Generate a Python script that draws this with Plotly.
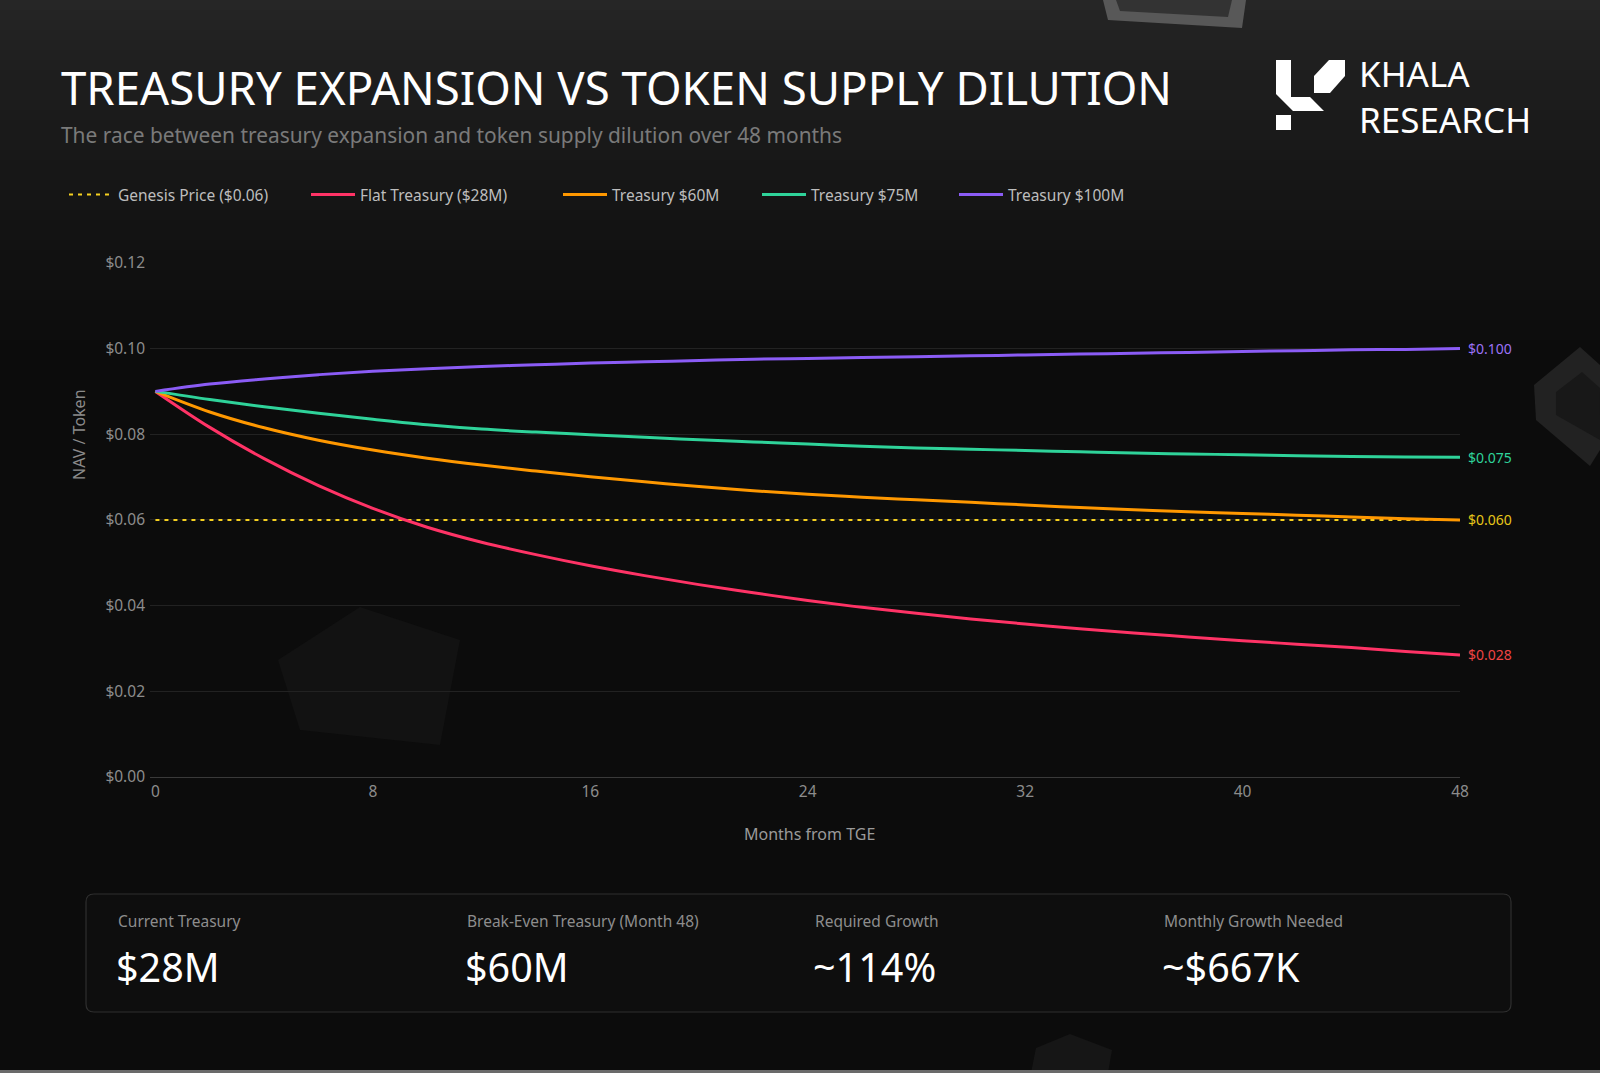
import plotly.graph_objects as go

# ---- data ----
months = [0, 2, 4, 6, 8, 10, 12, 14, 16, 18, 20, 22, 24,
          26, 28, 30, 32, 34, 36, 38, 40, 42, 44, 46, 48]

nav_flat_28m = [0.0900, 0.0816, 0.0743, 0.0680, 0.0627, 0.0583, 0.0548, 0.0519, 0.0493,
                0.0470, 0.0449, 0.0430, 0.0412, 0.0396, 0.0382, 0.0369, 0.0357, 0.0346,
                0.0336, 0.0327, 0.0318, 0.0310, 0.0302, 0.0293, 0.0285]
nav_60m = [0.0900, 0.0852, 0.0815, 0.0786, 0.0763, 0.0744, 0.0728, 0.0714, 0.0701,
           0.0689, 0.0678, 0.0668, 0.0660, 0.0653, 0.0647, 0.0641, 0.0635, 0.0629,
           0.0624, 0.0619, 0.0615, 0.0611, 0.0607, 0.0603, 0.0600]
nav_75m = [0.0900, 0.0881, 0.0864, 0.0849, 0.0835, 0.0822, 0.0812, 0.0805, 0.0799,
           0.0793, 0.0787, 0.0782, 0.0777, 0.0772, 0.0768, 0.0765, 0.0762, 0.0759,
           0.0756, 0.0754, 0.0752, 0.0750, 0.0748, 0.0747, 0.0746]
nav_100m = [0.0900, 0.0917, 0.0929, 0.0939, 0.0947, 0.0953, 0.0958, 0.0962, 0.0966,
            0.0969, 0.0972, 0.0975, 0.0977, 0.0979, 0.0981, 0.0983, 0.0985, 0.0987,
            0.0989, 0.0991, 0.0993, 0.0995, 0.0997, 0.0998, 0.1000]

genesis_months = [0, 48]
genesis_price = [0.06, 0.06]

x_ticks = [0, 8, 16, 24, 32, 40, 48]
y_ticks = [0.00, 0.02, 0.04, 0.06, 0.08, 0.10, 0.12]
y_tick_labels = ["$0.00", "$0.02", "$0.04", "$0.06", "$0.08", "$0.10", "$0.12"]

series_names = ["Flat Treasury ($28M)", "Treasury $60M", "Treasury $75M", "Treasury $100M"]
end_labels = ["$0.028", "$0.060", "$0.075", "$0.100"]

stat_labels = ["Current Treasury", "Break-Even Treasury (Month 48)", "Required Growth", "Monthly Growth Needed"]
stat_values = ["$28M", "$60M", "~114%", "~$667K"]

# ---- styling ----
FONT = "Noto Sans"
C_GEN = "#f5d020"
C_FLAT = "#ff3366"
C_60 = "#ff9800"
C_75 = "#2fd39a"
C_100 = "#8b5cf6"
label_colors = ["#ef4444", "#e6c619", C_75, "#9b72f7"]

W, H = 1600, 1073
ML, MR, MT, MB = 150, 140, 262, 296
PW, PH = W - ML - MR, H - MT - MB


def px(x):
    return (x - ML) / PW


def py(y):
    return (H - MB - y) / PH


def poly(points):
    pts = [f"{px(x):.5f},{py(y):.5f}" for x, y in points]
    return "M" + " L".join(pts) + " Z"


def rounded_rect(x0, y0, x1, y1, r):
    rx, ry = r / PW, r / PH
    X0, X1, Y0, Y1 = px(x0), px(x1), py(y0), py(y1)
    return (f"M{X0+rx},{Y0} L{X1-rx},{Y0} Q{X1},{Y0} {X1},{Y0-ry} L{X1},{Y1+ry} "
            f"Q{X1},{Y1} {X1-rx},{Y1} L{X0+rx},{Y1} Q{X0},{Y1} {X0},{Y1+ry} "
            f"L{X0},{Y0-ry} Q{X0},{Y0} {X0+rx},{Y0} Z")


fig = go.Figure()

fig.add_trace(go.Scatter(x=genesis_months, y=genesis_price, mode="lines", name="Genesis Price ($0.06)",
                         line=dict(color=C_GEN, width=2, dash="4px,5px"), legend="legend"))
curves = [nav_flat_28m, nav_60m, nav_75m, nav_100m]
colors = [C_FLAT, C_60, C_75, C_100]
legends = ["legend2", "legend3", "legend4", "legend5"]
for vals, name, col, lg in zip(curves, series_names, colors, legends):
    fig.add_trace(go.Scatter(x=months, y=vals, mode="lines", name=name, legend=lg,
                             line=dict(color=col, width=3, shape="spline", smoothing=1.0)))

# end-of-line value labels
for vals, txt, col in zip(curves, end_labels, label_colors):
    fig.add_annotation(x=months[-1], y=vals[-1], xref="x", yref="y", text=txt, showarrow=False,
                       xanchor="left", xshift=6, font=dict(family=FONT, size=14, color=col))

shapes = []
# background gradient at the top
for i in range(34):
    t = (i / 33) ** 0.8
    c = int(38 + (13 - 38) * t)
    shapes.append(dict(type="rect", xref="paper", yref="paper", layer="below",
                       x0=px(0), x1=px(W), y0=py(i * 10 + 10), y1=py(i * 10),
                       fillcolor=f"rgb({c},{c},{c})", line_width=0))
# faint decorative cubes
shapes.append(dict(type="path", xref="paper", yref="paper", layer="below", line_width=0, fillcolor="#585858",
                   path=poly([(1103, 0), (1246, 0), (1242, 28), (1108, 20)])))
shapes.append(dict(type="path", xref="paper", yref="paper", layer="below", line_width=0, fillcolor="#333333",
                   path=poly([(1116, 0), (1232, 0), (1228, 17), (1120, 11)])))
shapes.append(dict(type="path", xref="paper", yref="paper", layer="below", line_width=0, fillcolor="#222222",
                   path=poly([(1580, 347), (1600, 365), (1600, 450), (1590, 466), (1536, 420), (1534, 385)])))
shapes.append(dict(type="path", xref="paper", yref="paper", layer="below", line_width=0, fillcolor="#181818",
                   path=poly([(1582, 372), (1600, 388), (1600, 440), (1556, 415), (1556, 392)])))
shapes.append(dict(type="path", xref="paper", yref="paper", layer="below", line_width=0, fillcolor="#121212",
                   path=poly([(360, 607), (460, 640), (440, 745), (300, 730), (278, 660)])))
shapes.append(dict(type="path", xref="paper", yref="paper", layer="below", line_width=0, fillcolor="#161616",
                   path=poly([(1070, 1034), (1112, 1050), (1108, 1073), (1031, 1073), (1036, 1048)])))
# bottom light strip
shapes.append(dict(type="rect", xref="paper", yref="paper", layer="above", line_width=0, fillcolor="#6a6a6a",
                   x0=px(0), x1=px(W), y0=py(H), y1=py(1070)))
# stats box
shapes.append(dict(type="path", xref="paper", yref="paper", layer="below",
                   path=rounded_rect(86, 894, 1511, 1012, 8),
                   fillcolor="rgba(255,255,255,0.012)", line=dict(color="#2f2f2f", width=1.2)))
# logo mark
for pts in [
    [(1276, 60), (1291, 60), (1291, 97), (1310, 97), (1324, 111), (1293, 111), (1276, 94)],
    [(1276, 115), (1291, 115), (1291, 130), (1276, 130)],
    [(1314, 76), (1329, 60), (1345, 60), (1345, 76), (1330, 93), (1314, 93)],
]:
    shapes.append(dict(type="path", xref="paper", yref="paper", layer="above", line_width=0,
                       fillcolor="#ffffff", path=poly(pts)))

annotations = [
    dict(x=px(59), y=py(87), text="TREASURY EXPANSION VS TOKEN SUPPLY DILUTION", xanchor="left",
         font=dict(family=FONT, size=45.6, color="#ffffff")),
    dict(x=px(59), y=py(135), text="The race between treasury expansion and token supply dilution over 48 months",
         xanchor="left", font=dict(family=FONT, size=20.9, color="#7a7a7a")),
    dict(x=px(1357), y=py(97), text="KHALA<br>RESEARCH", xanchor="left", align="left",
         font=dict(family=FONT, size=35, color="#ffffff")),
    dict(x=px(79), y=py(435), text="NAV / Token", textangle=-90, xanchor="center",
         font=dict(family=FONT, size=16, color="#8a8a8a")),
    dict(x=px(809), y=py(834), text="Months from TGE", xanchor="center",
         font=dict(family=FONT, size=16, color="#9a9a9a")),
]
stat_x = [116, 465, 813, 1162]
for sx, lab, val in zip(stat_x, stat_labels, stat_values):
    annotations.append(dict(x=px(sx), y=py(921), text=lab, xanchor="left",
                            font=dict(family=FONT, size=15.5, color="#8d8d8d")))
    annotations.append(dict(x=px(sx - 2), y=py(967), text=val, xanchor="left",
                            font=dict(family=FONT, size=39.5, color="#ffffff")))
for a in annotations:
    a.update(xref="paper", yref="paper", showarrow=False, yanchor="middle")
    fig.add_annotation(**a)

legend_x = [64, 306, 558, 757, 954]
legend_style = dict(orientation="h", yanchor="middle", xanchor="left", bgcolor="rgba(0,0,0,0)",
                    font=dict(family=FONT, size=15.5, color="#bdbdbd"), itemwidth=44)
layout_legends = {}
for i, lx in enumerate(legend_x):
    key = "legend" if i == 0 else f"legend{i + 1}"
    layout_legends[key] = dict(x=px(lx), y=py(195), **legend_style)

fig.update_layout(
    width=W, height=H, autosize=False,
    margin=dict(l=ML, r=MR, t=MT, b=MB),
    paper_bgcolor="#0c0c0c", plot_bgcolor="rgba(0,0,0,0)",
    showlegend=True, hovermode=False,
    shapes=shapes,
    font=dict(family=FONT, color="#8c8c8c"),
    xaxis=dict(range=[-0.2, 48], tickvals=x_ticks, showgrid=False, zeroline=False,
               showline=True, linecolor="#3a3a3a", linewidth=1, ticks="",
               tickfont=dict(family=FONT, size=15.5, color="#8c8c8c"), fixedrange=True),
    yaxis=dict(range=[0, 0.1202], tickvals=y_ticks, ticktext=y_tick_labels, showgrid=True,
               gridcolor="#222222", gridwidth=1, zeroline=False, ticks="", ticklabelstandoff=4,
               tickfont=dict(family=FONT, size=15.5, color="#8c8c8c"), fixedrange=True),
    **layout_legends,
)

fig.write_html("out.html", config={"displayModeBar": False},
               post_script="document.body.style.margin='0';")
